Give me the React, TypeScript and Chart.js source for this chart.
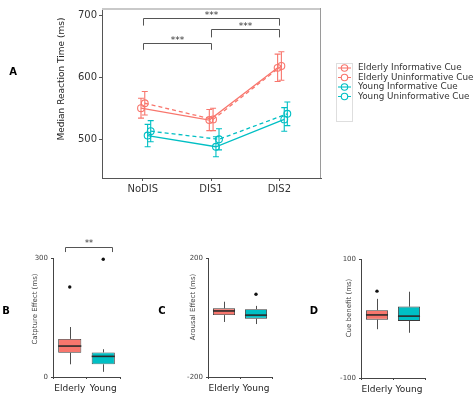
import React, { useEffect, useRef } from 'react';
import { Chart, registerables } from 'chart.js';

Chart.register(...registerables);

const W = 474;
const H = 394;
const FONT = '"DejaVu Sans", Verdana, sans-serif';
const ELDERLY = '#F8766D';
const YOUNG = '#00BFC4';

// ---------------- Panel A : median reaction time ----------------
const conditions = ['NoDIS', 'DIS1', 'DIS2'];
const conditionPos = [1, 2, 3];
const rtTicks = [500, 600, 700];
const seriesLabels = [
  'Elderly Informative Cue',
  'Elderly Uninformative Cue',
  'Young Informative Cue',
  'Young Uninformative Cue',
];
const elderlyInformative = [550, 531, 615];
const elderlyInformativeSE = [16, 17, 22];
const elderlyUninformative = [558, 532, 618];
const elderlyUninformativeSE = [19, 18, 23];
const youngInformative = [506, 488, 532];
const youngInformativeSE = [18, 16, 19];
const youngUninformative = [513, 500, 541];
const youngUninformativeSE = [17, 17, 19];

const bracketFrom = [1, 2, 1];
const bracketTo = [3, 3, 2];
const bracketTop = [695, 677, 655];
const bracketFoot = [683, 664, 644];
const bracketLabel = ['***', '***', '***'];

// ---------------- Panels B–D : box plots ----------------
const groups = ['Elderly', 'Young'];

const captureLow = [32, 13];
const captureQ1 = [61, 32];
const captureMedian = [78, 52];
const captureQ3 = [96, 62];
const captureHigh = [126, 70];
const captureOutliers = [[227], [297]];
const captureTicks = [0, 300];
const captureBracket = [-0.15, 1.25];
const captureBracketTop = [328];
const captureBracketFoot = [315];
const captureBracketLabel = ['**'];

const arousalLow = [-15, -22];
const arousalQ1 = [8, -4];
const arousalMedian = [22, 8];
const arousalQ3 = [31, 28];
const arousalHigh = [53, 39];
const arousalOutliers = [[], [78]];
const arousalTicks = [-200, 200];

const cueLow = [-18, -24];
const cueQ1 = [-2, -4];
const cueMedian = [6, 4];
const cueQ3 = [14, 20];
const cueHigh = [33, 45];
const cueOutliers = [[46], []];
const cueTicks = [-100, 100];

// styles
const seriesValues = [elderlyInformative, elderlyUninformative, youngInformative, youngUninformative];
const seriesSE = [elderlyInformativeSE, elderlyUninformativeSE, youngInformativeSE, youngUninformativeSE];
const seriesColor = [ELDERLY, ELDERLY, YOUNG, YOUNG];
const seriesDashed = [false, true, false, true];
const seriesDodge = [-0.025, 0.03, 0.072, 0.117];

function topConfig(): any {
  const area = { left: 102, right: 321, top: 1, bottom: 178 };
  const yW = 30;
  const xH = 22;
  const plugin = {
    id: 'panelA',
    beforeDatasetsDraw(chart: any) {
      const { ctx, chartArea: a } = chart;
      ctx.save();
      ctx.strokeStyle = '#c9c9c9';
      ctx.lineWidth = 2;
      ctx.beginPath();
      ctx.moveTo(a.left, a.top + 1);
      ctx.lineTo(a.right, a.top + 1);
      ctx.stroke();
      ctx.strokeStyle = '#9a9a9a';
      ctx.lineWidth = 1;
      ctx.beginPath();
      ctx.moveTo(a.right - 0.5, a.top);
      ctx.lineTo(a.right - 0.5, a.bottom);
      ctx.stroke();
      ctx.restore();
    },
    afterDatasetsDraw(chart: any) {
      const { ctx } = chart;
      const xs = chart.scales.x;
      const ys = chart.scales.y;
      ctx.save();
      ctx.lineWidth = 1.1;
      ctx.setLineDash([]);
      seriesValues.forEach((vals, s) => {
        ctx.strokeStyle = seriesColor[s];
        vals.forEach((v, i) => {
          const px = xs.getPixelForValue(conditionPos[i] + seriesDodge[s]);
          const y1 = ys.getPixelForValue(v - seriesSE[s][i]);
          const y2 = ys.getPixelForValue(v + seriesSE[s][i]);
          ctx.beginPath();
          ctx.moveTo(px, y1);
          ctx.lineTo(px, y2);
          ctx.moveTo(px - 3, y1);
          ctx.lineTo(px + 3, y1);
          ctx.moveTo(px - 3, y2);
          ctx.lineTo(px + 3, y2);
          ctx.stroke();
        });
      });
      ctx.restore();
    },
    afterDraw(chart: any) {
      const { ctx } = chart;
      const xs = chart.scales.x;
      const ys = chart.scales.y;
      ctx.save();
      // significance brackets
      ctx.strokeStyle = '#555';
      ctx.fillStyle = '#333';
      ctx.lineWidth = 1;
      ctx.font = `9px ${FONT}`;
      ctx.textAlign = 'center';
      ctx.textBaseline = 'alphabetic';
      bracketFrom.forEach((f, k) => {
        const x1 = Math.round(xs.getPixelForValue(f)) + 0.5;
        const x2 = Math.round(xs.getPixelForValue(bracketTo[k])) + 0.5;
        const yt = Math.round(ys.getPixelForValue(bracketTop[k])) + 0.5;
        const yf = ys.getPixelForValue(bracketFoot[k]);
        ctx.beginPath();
        ctx.moveTo(x1, yf);
        ctx.lineTo(x1, yt);
        ctx.lineTo(x2, yt);
        ctx.lineTo(x2, yf);
        ctx.stroke();
        ctx.fillText(bracketLabel[k], (x1 + x2) / 2, yt - 0.5);
      });
      // legend
      const ly0 = 68;
      const lstep = 9.5;
      ctx.strokeStyle = '#dedede';
      ctx.strokeRect(336.5, 63.5, 16, 58);
      seriesLabels.forEach((lab, s) => {
        const yy = ly0 + s * lstep;
        const cx = 344.5;
        ctx.strokeStyle = seriesColor[s];
        ctx.lineWidth = 1.1;
        ctx.beginPath();
        if (seriesDashed[s]) {
          ctx.moveTo(338, yy);
          ctx.lineTo(341, yy);
          ctx.moveTo(348, yy);
          ctx.lineTo(351, yy);
        } else {
          ctx.moveTo(338, yy);
          ctx.lineTo(351, yy);
        }
        ctx.stroke();
        ctx.beginPath();
        ctx.arc(cx, yy, 3.2, 0, Math.PI * 2);
        ctx.stroke();
        ctx.fillStyle = '#333';
        ctx.font = `8.8px ${FONT}`;
        ctx.textAlign = 'left';
        ctx.textBaseline = 'middle';
        ctx.fillText(lab, 358, yy);
      });
      // axis title
      ctx.save();
      ctx.translate(62, 79);
      ctx.rotate(-Math.PI / 2);
      ctx.fillStyle = '#222';
      ctx.font = `9px ${FONT}`;
      ctx.textAlign = 'center';
      ctx.textBaseline = 'middle';
      ctx.fillText('Median Reaction Time (ms)', 0, 0);
      ctx.restore();
      // panel letter
      ctx.fillStyle = '#000';
      ctx.font = `bold 10px ${FONT}`;
      ctx.textAlign = 'center';
      ctx.textBaseline = 'middle';
      ctx.fillText('A', 13, 72);
      ctx.restore();
    },
  };

  const datasets = seriesValues.map((vals, s) => ({
    label: seriesLabels[s],
    data: vals.map((v, i) => ({ x: conditionPos[i] + seriesDodge[s], y: v })),
    borderColor: seriesColor[s],
    borderWidth: 1.3,
    borderDash: seriesDashed[s] ? [4, 3] : [],
    pointStyle: 'circle',
    pointRadius: 3.4,
    pointBorderWidth: 1.1,
    pointBorderColor: seriesColor[s],
    pointBackgroundColor: 'rgba(255,255,255,0)',
    fill: false,
    tension: 0,
  }));

  return {
    type: 'line',
    data: { datasets },
    options: {
      animation: false,
      responsive: false,
      maintainAspectRatio: false,
      events: [],
      layout: {
        padding: { left: area.left - yW, right: W - area.right, top: area.top, bottom: H - area.bottom - xH },
      },
      plugins: { legend: { display: false }, tooltip: { enabled: false } },
      scales: {
        x: {
          type: 'linear',
          min: 0.404,
          max: 3.61,
          afterBuildTicks(s: any) {
            s.ticks = conditionPos.map((v) => ({ value: v }));
          },
          afterFit(s: any) {
            s.height = xH;
          },
          ticks: {
            callback: (v: number) => {
              const k = conditionPos.indexOf(v);
              return k >= 0 ? conditions[k] : '';
            },
            font: { family: FONT, size: 10 },
            color: '#333',
            padding: 2,
            maxRotation: 0,
            autoSkip: false,
          },
          grid: { display: true, drawOnChartArea: false, drawTicks: true, tickLength: 3, color: '#555' },
          border: { display: true, color: '#555', width: 1 },
        },
        y: {
          type: 'linear',
          min: 437.7,
          max: 711.3,
          afterBuildTicks(s: any) {
            s.ticks = rtTicks.map((v) => ({ value: v }));
          },
          afterFit(s: any) {
            s.width = yW;
          },
          ticks: { font: { family: FONT, size: 10 }, color: '#333', padding: 2 },
          grid: { display: true, drawOnChartArea: false, drawTicks: true, tickLength: 3, color: '#555' },
          border: { display: true, color: '#555', width: 1 },
        },
      },
    },
    plugins: [plugin],
  };
}

type BoxSpec = {
  title: string;
  letter: string;
  letterX: number;
  titleX: number;
  titleY: number;
  area: { left: number; right: number; top: number; bottom: number };
  ticks: number[];
  low: number[];
  q1: number[];
  median: number[];
  q3: number[];
  high: number[];
  outliers: number[][];
  bracket?: number[];
  bracketTop?: number[];
  bracketFoot?: number[];
  bracketLabel?: string[];
};

function boxConfig(spec: BoxSpec): any {
  const yW = 22;
  const xH = H - spec.area.bottom;
  const plugin = {
    id: 'boxExtras',
    afterDatasetsDraw(chart: any) {
      const { ctx } = chart;
      const ys = chart.scales.y;
      const meta = chart.getDatasetMeta(0);
      ctx.save();
      meta.data.forEach((bar: any, i: number) => {
        const { x, width } = bar.getProps(['x', 'width'], true);
        const cx = Math.round(x) + 0.5;
        ctx.strokeStyle = '#3a3a3a';
        ctx.lineWidth = 0.9;
        ctx.beginPath();
        ctx.moveTo(cx, ys.getPixelForValue(spec.q3[i]));
        ctx.lineTo(cx, ys.getPixelForValue(spec.high[i]));
        ctx.moveTo(cx, ys.getPixelForValue(spec.q1[i]));
        ctx.lineTo(cx, ys.getPixelForValue(spec.low[i]));
        ctx.stroke();
        const ym = ys.getPixelForValue(spec.median[i]);
        ctx.strokeStyle = '#2a2a2a';
        ctx.lineWidth = 1.6;
        ctx.beginPath();
        ctx.moveTo(x - width / 2, ym);
        ctx.lineTo(x + width / 2, ym);
        ctx.stroke();
        ctx.fillStyle = '#111';
        spec.outliers[i].forEach((o) => {
          ctx.beginPath();
          ctx.arc(x, ys.getPixelForValue(o), 1.7, 0, Math.PI * 2);
          ctx.fill();
        });
      });
      ctx.restore();
    },
    afterDraw(chart: any) {
      const { ctx } = chart;
      const xs = chart.scales.x;
      const ys = chart.scales.y;
      ctx.save();
      if (spec.bracket && spec.bracketTop && spec.bracketFoot && spec.bracketLabel) {
        const x1 = Math.round(xs.getPixelForValue(spec.bracket[0])) + 0.5;
        const x2 = Math.round(xs.getPixelForValue(spec.bracket[1])) + 0.5;
        const yt = Math.round(ys.getPixelForValue(spec.bracketTop[0])) + 0.5;
        const yf = ys.getPixelForValue(spec.bracketFoot[0]);
        ctx.strokeStyle = '#555';
        ctx.lineWidth = 1;
        ctx.beginPath();
        ctx.moveTo(x1, yf);
        ctx.lineTo(x1, yt);
        ctx.lineTo(x2, yt);
        ctx.lineTo(x2, yf);
        ctx.stroke();
        ctx.fillStyle = '#333';
        ctx.font = `8px ${FONT}`;
        ctx.textAlign = 'center';
        ctx.textBaseline = 'alphabetic';
        ctx.fillText(spec.bracketLabel[0], (x1 + x2) / 2, yt - 1.5);
      }
      ctx.save();
      ctx.translate(spec.titleX, spec.titleY);
      ctx.rotate(-Math.PI / 2);
      ctx.fillStyle = '#444';
      ctx.font = `7px ${FONT}`;
      ctx.textAlign = 'center';
      ctx.textBaseline = 'middle';
      ctx.fillText(spec.title, 0, 0);
      ctx.restore();
      ctx.fillStyle = '#000';
      ctx.font = `bold 10px ${FONT}`;
      ctx.textAlign = 'center';
      ctx.textBaseline = 'middle';
      ctx.fillText(spec.letter, spec.letterX, 311);
      ctx.restore();
    },
  };

  const min = spec.ticks[0];
  const max = spec.ticks[spec.ticks.length - 1];
  return {
    type: 'bar',
    data: {
      labels: groups,
      datasets: [
        {
          data: groups.map((_, i) => [spec.q1[i], spec.q3[i]]),
          backgroundColor: [ELDERLY, YOUNG],
          borderColor: '#3a3a3a',
          borderWidth: 0.9,
          borderSkipped: false,
          barPercentage: 0.69,
          categoryPercentage: 1,
        },
      ],
    },
    options: {
      animation: false,
      responsive: false,
      maintainAspectRatio: false,
      events: [],
      layout: {
        padding: {
          left: spec.area.left - yW,
          right: W - spec.area.right,
          top: spec.area.top,
          bottom: 0,
        },
      },
      plugins: { legend: { display: false }, tooltip: { enabled: false } },
      scales: {
        x: {
          type: 'category',
          afterFit(s: any) {
            s.height = xH;
          },
          ticks: { font: { family: FONT, size: 9 }, color: '#222', padding: 4, maxRotation: 0, autoSkip: false },
          grid: { display: true, drawOnChartArea: false, drawTicks: true, tickLength: 2, color: '#444' },
          border: { display: true, color: '#444', width: 1 },
        },
        y: {
          type: 'linear',
          min,
          max,
          afterBuildTicks(s: any) {
            s.ticks = spec.ticks.map((v) => ({ value: v }));
          },
          afterFit(s: any) {
            s.width = yW;
          },
          ticks: { font: { family: FONT, size: 7 }, color: '#444', padding: 3 },
          grid: { display: true, drawOnChartArea: false, drawTicks: true, tickLength: 2, color: '#444' },
          border: { display: true, color: '#444', width: 1 },
        },
      },
    },
    plugins: [plugin],
  };
}

const specB: BoxSpec = {
  title: 'Catpture Effect (ms)',
  letter: 'B',
  letterX: 6,
  titleX: 35,
  titleY: 309,
  area: { left: 53, right: 120, top: 258, bottom: 377 },
  ticks: captureTicks,
  low: captureLow,
  q1: captureQ1,
  median: captureMedian,
  q3: captureQ3,
  high: captureHigh,
  outliers: captureOutliers,
  bracket: captureBracket,
  bracketTop: captureBracketTop,
  bracketFoot: captureBracketFoot,
  bracketLabel: captureBracketLabel,
};

const specC: BoxSpec = {
  title: 'Arousal Effect (ms)',
  letter: 'C',
  letterX: 162,
  titleX: 193,
  titleY: 307,
  area: { left: 208, right: 272, top: 258, bottom: 377 },
  ticks: arousalTicks,
  low: arousalLow,
  q1: arousalQ1,
  median: arousalMedian,
  q3: arousalQ3,
  high: arousalHigh,
  outliers: arousalOutliers,
};

const specD: BoxSpec = {
  title: 'Cue benefit (ms)',
  letter: 'D',
  letterX: 314,
  titleX: 349,
  titleY: 308,
  area: { left: 361, right: 425, top: 259, bottom: 378 },
  ticks: cueTicks,
  low: cueLow,
  q1: cueQ1,
  median: cueMedian,
  q3: cueQ3,
  high: cueHigh,
  outliers: cueOutliers,
};

export default function App() {
  const aRef = useRef<HTMLCanvasElement>(null);
  const bRef = useRef<HTMLCanvasElement>(null);
  const cRef = useRef<HTMLCanvasElement>(null);
  const dRef = useRef<HTMLCanvasElement>(null);

  useEffect(() => {
    const charts: Chart[] = [];
    if (aRef.current) charts.push(new Chart(aRef.current, topConfig()));
    if (bRef.current) charts.push(new Chart(bRef.current, boxConfig(specB)));
    if (cRef.current) charts.push(new Chart(cRef.current, boxConfig(specC)));
    if (dRef.current) charts.push(new Chart(dRef.current, boxConfig(specD)));
    return () => charts.forEach((c) => c.destroy());
  }, []);

  const cs: React.CSSProperties = { position: 'absolute', left: 0, top: 0, width: W, height: H };
  return (
    <div style={{ position: 'absolute', left: 0, top: 0, width: W, height: H, background: '#fff', overflow: 'hidden' }}>
      <canvas ref={aRef} width={W} height={H} style={cs} />
      <canvas ref={bRef} width={W} height={H} style={cs} />
      <canvas ref={cRef} width={W} height={H} style={cs} />
      <canvas ref={dRef} width={W} height={H} style={cs} />
    </div>
  );
}
